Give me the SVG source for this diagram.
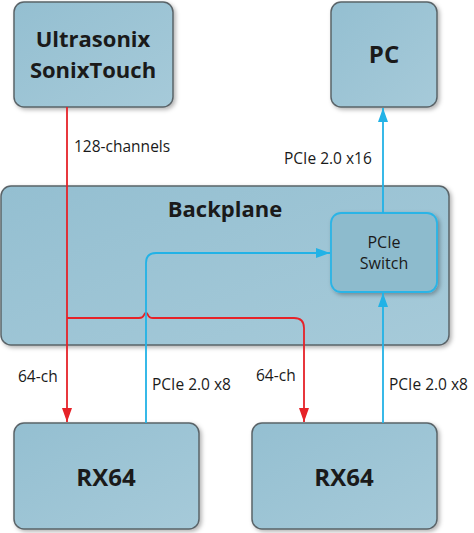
<svg xmlns="http://www.w3.org/2000/svg" width="474" height="533" viewBox="0 0 474 533">
<style>
.box{fill:url(#g);stroke:#5a6468;stroke-width:1.5}
.t{font-family:"Open Sans","Noto Sans",sans-serif;fill:#1a1a1a}
.b{font-weight:bold;font-size:22px}
.bb{font-weight:bold;font-size:24px}
.l{font-size:15.5px}
.red{fill:none;stroke:#e62228;stroke-width:1.8}
.blue{fill:none;stroke:#22b2e6;stroke-width:1.8}
</style>
<defs>
<linearGradient id="g" x1="0" y1="0" x2="1" y2="1">
<stop offset="0" stop-color="#94bfd1"/>
<stop offset="1" stop-color="#a6cad9"/>
</linearGradient>
<filter id="sh" x="-10%" y="-10%" width="125%" height="125%">
<feDropShadow dx="2" dy="2" stdDeviation="2" flood-color="#000" flood-opacity="0.3"/>
</filter>
<marker id="ar" viewBox="0 0 14 10" refX="14" refY="5" markerWidth="14" markerHeight="10" markerUnits="userSpaceOnUse" orient="auto">
<path d="M0,0L14,5L0,10z" fill="#e62228"/>
</marker>
<marker id="ab" viewBox="0 0 14 10" refX="14" refY="5" markerWidth="14" markerHeight="10" markerUnits="userSpaceOnUse" orient="auto">
<path d="M0,0L14,5L0,10z" fill="#22b2e6"/>
</marker>
</defs>
<g id="backplane">
<rect class="box" x="1" y="186" width="448" height="159" rx="10" filter="url(#sh)"/>
<text class="t b" x="225" y="217" text-anchor="middle">Backplane</text>
</g>
<g id="ultrasonix">
<rect class="box" x="14" y="2" width="159" height="105" rx="10" filter="url(#sh)"/>
<text class="t b" x="93" y="47" text-anchor="middle">Ultrasonix</text>
<text class="t b" x="93" y="78" text-anchor="middle">SonixTouch</text>
</g>
<g id="pc">
<rect class="box" x="331" y="2" width="106" height="105" rx="10" filter="url(#sh)"/>
<text class="t bb" x="384" y="63" text-anchor="middle">PC</text>
</g>
<g id="switch">
<rect x="331" y="213" width="106" height="79" rx="10" fill="#8dbbcd" stroke="#2bb4e6" stroke-width="1.8" filter="url(#sh)"/>
<text class="t" x="384" y="248" text-anchor="middle" font-size="16">PCIe</text>
<text class="t" x="384" y="269" text-anchor="middle" font-size="16">Switch</text>
</g>
<g id="rx64a">
<rect class="box" x="14" y="423" width="185" height="106" rx="10" filter="url(#sh)"/>
<text class="t bb" x="106" y="486" text-anchor="middle">RX64</text>
</g>
<g id="rx64b">
<rect class="box" x="252" y="423" width="185" height="106" rx="10" filter="url(#sh)"/>
<text class="t bb" x="344" y="486" text-anchor="middle">RX64</text>
</g>
<g id="connectors">
<path class="red" d="M67,107V422" marker-end="url(#ar)"/>
<path class="red" d="M67,318H139Q143,318 144,315Q146,311 148,315Q149,318 153,318H294Q304,318 304,328V422" marker-end="url(#ar)"/>
<path class="blue" d="M146,423V263Q146,253 156,253H330" marker-end="url(#ab)"/>
<path class="blue" d="M383,423V293" marker-end="url(#ab)"/>
<path class="blue" d="M383,213V108" marker-end="url(#ab)"/>
<text class="t l" x="74" y="152">128-channels</text>
<text class="t l" x="284" y="164">PCIe 2.0 x16</text>
<text class="t l" x="18" y="382">64-ch</text>
<text class="t l" x="152" y="390">PCIe 2.0 x8</text>
<text class="t l" x="256" y="381">64-ch</text>
<text class="t l" x="389" y="390">PCIe 2.0 x8</text>
</g>
</svg>
